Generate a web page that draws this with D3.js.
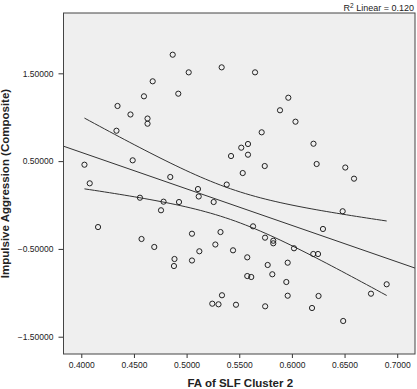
<!DOCTYPE html>
<html>
<head>
<meta charset="utf-8">
<script src="https://cdn.jsdelivr.net/npm/d3@7"></script>
<style>
  body { margin: 0; background: #fff; }
  text { font-family: "Liberation Sans", Arial, sans-serif; fill: #222; }
</style>
</head>
<body>
<svg id="chart"></svg>
<script>
// FA de SLF cluster 2 (x) et agression impulsive composite (y)
const faValues = [
  0.4868, 0.5020, 0.5333, 0.5650, 0.4678, 0.4921, 0.4595, 0.5966, 0.4344, 0.4467,
  0.5887, 0.4629, 0.4629, 0.6034, 0.4334, 0.5713, 0.5583, 0.5519, 0.6205, 0.5422,
  0.5583, 0.4488, 0.4030, 0.5742, 0.6235, 0.6507, 0.6590, 0.5533, 0.4080, 0.4845,
  0.5381, 0.5108, 0.5115, 0.4557, 0.4781, 0.4928, 0.5257, 0.4757, 0.6482, 0.4159,
  0.5631, 0.5051, 0.5322, 0.6295, 0.4572, 0.5745, 0.5823, 0.5823, 0.5273, 0.4693,
  0.5441, 0.5121, 0.6020, 0.6203, 0.6248, 0.5576, 0.4885, 0.4880, 0.5051, 0.5770,
  0.5960, 0.5576, 0.5614, 0.5814, 0.5947, 0.6900, 0.6751, 0.5336, 0.5960, 0.6253,
  0.5244, 0.5303, 0.5469, 0.5746, 0.6191, 0.6487
]
const aggressionValues = [
  1.712, 1.511, 1.568, 1.511, 1.409, 1.268, 1.238, 1.222, 1.128, 1.031,
  1.079, 0.985, 0.926, 0.949, 0.846, 0.828, 0.695, 0.653, 0.698, 0.558,
  0.573, 0.509, 0.459, 0.444, 0.467, 0.427, 0.300, 0.364, 0.247, 0.319,
  0.233, 0.182, 0.097, 0.083, 0.038, 0.034, 0.034, -0.060, -0.071, -0.251,
  -0.243, -0.327, -0.308, -0.273, -0.387, -0.372, -0.407, -0.436, -0.450, -0.478,
  -0.516, -0.527, -0.493, -0.558, -0.558, -0.596, -0.615, -0.695, -0.632, -0.683,
  -0.657, -0.809, -0.820, -0.789, -0.877, -0.903, -1.010, -1.028, -1.033, -1.036,
  -1.124, -1.131, -1.136, -1.154, -1.173, -1.321
]
const xTicks = [0.40, 0.45, 0.50, 0.55, 0.60, 0.65, 0.70]
const yTicks = [1.5, 0.5, -0.5, -1.5]
const rSquaredLabel = '0.120'

const width = 417, height = 389
const plot = {left: 63.5, right: 415, top: 13, bottom: 354}

const svg = d3.select('#chart').attr('width', width).attr('height', height)

const xScale = d3.scaleLinear().domain([0.3831, 0.7169]).range([plot.left, plot.right])
const yScale = d3.scaleLinear().domain([2.187, -1.697]).range([plot.top, plot.bottom])

/*fond et cadre*/
svg.append('rect')
   .attr('x', plot.left).attr('y', plot.top)
   .attr('width', plot.right - plot.left).attr('height', plot.bottom - plot.top)
   .attr('fill', '#efefef')

svg.append('clipPath').attr('id', 'clip')
   .append('rect')
   .attr('x', plot.left).attr('y', plot.top)
   .attr('width', plot.right - plot.left).attr('height', plot.bottom - plot.top)

/*axes*/
const xAxis = d3.axisBottom(xScale).tickValues(xTicks).tickSize(4).tickPadding(4)
                .tickFormat(d3.format('.4f'))
const gx = svg.append('g').attr('transform', `translate(0,${plot.bottom})`).call(xAxis)

const yAxis = d3.axisLeft(yScale).tickValues(yTicks).tickSize(5).tickPadding(5)
                .tickFormat(d3.format('.5f'))
const gy = svg.append('g').attr('transform', `translate(${plot.left},0)`).call(yAxis)

;[gx, gy].forEach(g => {
  g.select('.domain').remove()
  g.selectAll('line').attr('stroke', '#333')
  g.selectAll('text').style('font-size', '8.5px').attr('fill', '#222')
})

/*régression linéaire et intervalle de confiance à 95 % de la moyenne*/
const n = faValues.length
const xbar = d3.mean(faValues), ybar = d3.mean(aggressionValues)
let sxx = 0, sxy = 0
faValues.forEach((x, i) => {
  sxx += (x - xbar) ** 2
  sxy += (x - xbar) * (aggressionValues[i] - ybar)
})
const slope = sxy / sxx
const intercept = ybar - slope * xbar
let sse = 0
faValues.forEach((x, i) => { sse += (aggressionValues[i] - (intercept + slope * x)) ** 2 })
const s = Math.sqrt(sse / (n - 2))
const tCrit = 1.9925

const xmin = d3.min(faValues), xmax = d3.max(faValues)
const steps = d3.range(0, 61).map(k => xmin + (xmax - xmin) * k / 60)
const band = sign => steps.map(x => {
  const half = tCrit * s * Math.sqrt(1 / n + (x - xbar) ** 2 / sxx)
  return [x, intercept + slope * x + sign * half]
})

const line = d3.line().x(d => xScale(d[0])).y(d => yScale(d[1]))
const lines = svg.append('g').attr('clip-path', 'url(#clip)')
                 .attr('fill', 'none').attr('stroke', '#333').attr('stroke-width', 1)

lines.append('path').attr('d', line(xScale.domain().map(x => [x, intercept + slope * x])))
lines.append('path').attr('d', line(band(1)))
lines.append('path').attr('d', line(band(-1)))

/*points*/
svg.append('g').selectAll('circle')
   .data(faValues)
   .enter()
   .append('circle')
   .attr('cx', d => xScale(d))
   .attr('cy', (d, i) => yScale(aggressionValues[i]))
   .attr('r', 2.6)
   .attr('fill', 'none')
   .attr('stroke', '#222')
   .attr('stroke-width', 1)

svg.append('rect')
   .attr('x', plot.left).attr('y', plot.top)
   .attr('width', plot.right - plot.left).attr('height', plot.bottom - plot.top)
   .attr('fill', 'none').attr('stroke', '#444').attr('stroke-width', 1)

/*titres*/
svg.append('text')
   .attr('x', (plot.left + plot.right) / 2 + 1)
   .attr('y', 387)
   .attr('text-anchor', 'middle')
   .style('font-size', '11.5px').style('font-weight', 'bold')
   .text('FA of SLF Cluster 2')

svg.append('text')
   .attr('transform', 'rotate(-90)')
   .attr('x', -(plot.top + plot.bottom) / 2)
   .attr('y', 9)
   .attr('text-anchor', 'middle')
   .style('font-size', '11.5px').style('font-weight', 'bold')
   .text('Impulsive Aggression (Composite)')

const r2 = svg.append('text')
   .attr('x', 414).attr('y', 10.5)
   .attr('text-anchor', 'end')
   .style('font-size', '9px')
r2.append('tspan').text('R')
r2.append('tspan').attr('dy', -3).style('font-size', '6.5px').text('2')
r2.append('tspan').attr('dy', 3).text(' Linear = ' + rSquaredLabel)
</script>
</body>
</html>
